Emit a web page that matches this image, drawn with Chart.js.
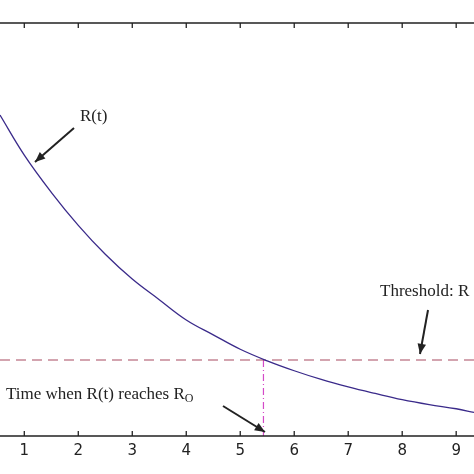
<!DOCTYPE html><html><head><script src="https://cdn.jsdelivr.net/npm/chart.js"></script>
<style>html,body{margin:0;padding:0;background:#fff}#w{width:474px;height:474px}</style></head><body><div id="w"><canvas id="c"></canvas></div>
<script>
const tValues=[0.55,1,1.5,2,2.5,3,3.5,4,4.5,5,5.5,6,6.5,7,7.5,8,8.5,9,9.33];
const rValues=[0.777,0.68,0.59,0.51,0.44,0.38,0.33,0.281,0.245,0.21,0.182,0.158,0.137,0.119,0.103,0.088,0.076,0.066,0.057];
const threshold=0.184;
const crossT=5.43;
const xTicks=[1,2,3,4,5,6,7,8,9];
const xMin=0.55,xMax=9.33,yMin=0,yMax=1;
const deco={id:'deco',afterDraw(ch){
 const c=ch.ctx,x=ch.scales.x,y=ch.scales.y,a=ch.chartArea;
 c.save();c.strokeStyle='#222';c.lineWidth=1.3;
 c.beginPath();c.moveTo(a.left,a.top);c.lineTo(a.right,a.top);c.moveTo(a.left,a.bottom);c.lineTo(a.right,a.bottom);c.stroke();
 c.fillStyle='#222';c.font='15px "DejaVu Sans"';c.textAlign='center';c.textBaseline='top';
 xTicks.forEach(v=>{const p=x.getPixelForValue(v);c.beginPath();c.moveTo(p,a.top);c.lineTo(p,a.top+5);c.moveTo(p,a.bottom);c.lineTo(p,a.bottom-5);c.stroke();c.fillText(String(v),p,a.bottom+8);});
 c.font='17px "Liberation Serif"';c.textAlign='left';c.textBaseline='alphabetic';
 c.fillText('R(t)',80,121);
 c.fillText('Threshold: R',380,296);
 c.fillText('Time when R(t) reaches R',6,399);
 const w=c.measureText('Time when R(t) reaches R').width;c.font='12px "Liberation Serif"';c.fillText('O',6+w,402);
 function arrow(x1,y1,x2,y2){c.lineWidth=2;c.beginPath();c.moveTo(x1,y1);c.lineTo(x2,y2);c.stroke();const ang=Math.atan2(y2-y1,x2-x1),L=11;c.beginPath();c.moveTo(x2,y2);c.lineTo(x2-L*Math.cos(ang-0.4),y2-L*Math.sin(ang-0.4));c.lineTo(x2-L*Math.cos(ang+0.4),y2-L*Math.sin(ang+0.4));c.closePath();c.fill();}
 arrow(74,128,35,162);arrow(428,310,420,354);arrow(223,406,265,432);
 c.restore();}};
new Chart(document.getElementById('c'),{type:'line',
 data:{datasets:[
  {data:tValues.map((t,i)=>({x:t,y:rValues[i]})),borderColor:'#3a2a8a',borderWidth:1.3,pointRadius:0,tension:0.4},
  {data:[{x:xMin,y:threshold},{x:xMax,y:threshold}],borderColor:'#a84a60',borderWidth:1.2,borderDash:[10,6],pointRadius:0},
  {data:[{x:crossT,y:threshold},{x:crossT,y:0}],borderColor:'#d44ac8',borderWidth:1.2,borderDash:[7,3,1,3],pointRadius:0}]},
 options:{responsive:true,maintainAspectRatio:false,animation:false,layout:{padding:0},
  plugins:{legend:{display:false},tooltip:{enabled:false}},
  scales:{x:{type:'linear',min:xMin,max:xMax,ticks:{display:false},grid:{display:false},border:{display:false},afterFit(s){s.height=38;}},
   y:{min:yMin,max:yMax,display:false},
   x2:{type:'linear',position:'top',min:xMin,max:xMax,ticks:{display:false},grid:{display:false},border:{display:false},afterFit(s){s.height=23;}}}},
 plugins:[deco]});
</script></body></html>
